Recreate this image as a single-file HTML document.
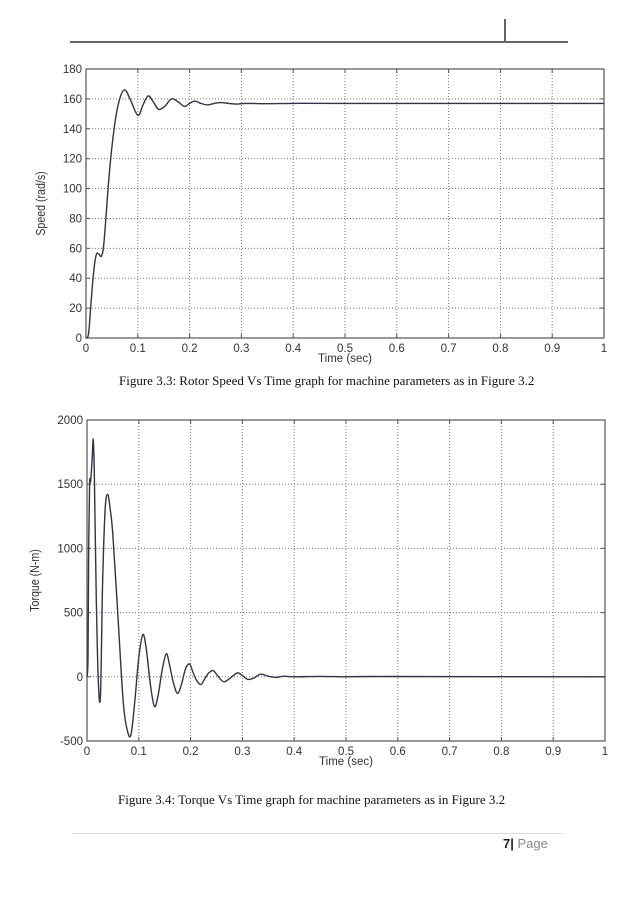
<!DOCTYPE html>
<html><head><meta charset="utf-8"><style>
body{margin:0;background:#fff;width:638px;height:903px;overflow:hidden;position:relative;font-family:"Liberation Sans",sans-serif}
.cap{position:absolute;font-family:"Liberation Serif",serif;font-size:13px;color:#111;white-space:nowrap}
</style></head><body>
<div style="position:absolute;left:70px;top:41px;width:498px;height:2px;background:#666"></div>
<div style="position:absolute;left:504px;top:19px;width:2px;height:23px;background:#666"></div>
<svg id="c1" style="position:absolute;left:0;top:0" width="638" height="400"></svg>
<div class="cap" style="left:119px;top:373px">Figure 3.3: Rotor Speed Vs Time graph for machine parameters as in Figure 3.2</div>
<svg id="c2" style="position:absolute;left:0;top:0" width="638" height="790"></svg>
<div class="cap" style="left:118px;top:792px">Figure 3.4: Torque Vs Time graph for machine parameters as in Figure 3.2</div>
<div style="position:absolute;left:72px;top:833px;width:491px;height:1px;background:#ddd"></div>
<div style="position:absolute;left:503px;top:836px;font-size:13px;color:#888;white-space:nowrap"><b style="color:#222">7|</b> Page</div>
<script>
const xTicks=[0,0.1,0.2,0.3,0.4,0.5,0.6,0.7,0.8,0.9,1];
const xTickLabels=["0","0.1","0.2","0.3","0.4","0.5","0.6","0.7","0.8","0.9","1"];
const speedTicks=[0,20,40,60,80,100,120,140,160,180];
const speedT=[0,0.005,0.01,0.015,0.02,0.025,0.03,0.035,0.045,0.055,0.065,0.075,0.085,0.1,0.11,0.12,0.13,0.14,0.152,0.165,0.178,0.19,0.2,0.21,0.222,0.235,0.248,0.26,0.275,0.29,0.31,0.35,0.4,0.5,1];
const speedV=[0,3,25,45,56,56,55,65,110,142,160,166,160,149,156,162,158,153,155,160,158,155,157,158.5,157,156,157,157.5,157,156.5,157,156.8,157,157,157];
const torqueTicks=[-500,0,500,1000,1500,2000];
const torqueTickLabels=["-500","0","500","1000","1500","2000"];
const torqueT=[0,0.002,0.003,0.005,0.007,0.01,0.012,0.014,0.018,0.022,0.026,0.03,0.035,0.04,0.045,0.05,0.06,0.07,0.078,0.085,0.092,0.1,0.108,0.115,0.122,0.13,0.137,0.145,0.153,0.16,0.167,0.175,0.183,0.19,0.198,0.205,0.212,0.22,0.228,0.235,0.243,0.25,0.258,0.265,0.275,0.29,0.3,0.31,0.322,0.335,0.35,0.365,0.38,0.4,0.45,0.5,0.55,1];
const torqueV=[0,150,900,1500,1520,1700,1850,1600,600,-50,-140,700,1300,1420,1300,1100,450,-200,-420,-450,-200,150,330,200,-50,-230,-150,50,180,80,-50,-130,-50,60,100,30,-30,-60,-10,30,50,20,-20,-40,-15,30,10,-20,-10,20,5,-5,5,0,3,0,2,0];
const NS="http://www.w3.org/2000/svg";
function mk(svg,tag,attrs){const e=document.createElementNS(NS,tag);for(const k in attrs)e.setAttribute(k,attrs[k]);svg.appendChild(e);return e;}
function smooth(pts){
  let d='M'+pts[0][0].toFixed(1)+','+pts[0][1].toFixed(1);
  for(let i=0;i<pts.length-1;i++){
    const p0=pts[Math.max(0,i-1)],p1=pts[i],p2=pts[i+1],p3=pts[Math.min(pts.length-1,i+2)];
    const c1=[p1[0]+(p2[0]-p0[0])/6,p1[1]+(p2[1]-p0[1])/6];
    const c2=[p2[0]-(p3[0]-p1[0])/6,p2[1]-(p3[1]-p1[1])/6];
    c1[0]=Math.min(Math.max(c1[0],p1[0]),p2[0]);c2[0]=Math.min(Math.max(c2[0],p1[0]),p2[0]);
    d+=` C${c1[0].toFixed(1)},${c1[1].toFixed(1)} ${c2[0].toFixed(1)},${c2[1].toFixed(1)} ${p2[0].toFixed(1)},${p2[1].toFixed(1)}`;
  }
  return d;
}
function chart(id,L,R,T,B,yTicks,yLabels,ymin,ymax,xs,ys,ylab,yLabX){
  const svg=document.getElementById(id);
  const sx=v=>L+(R-L)*v, sy=v=>B-(B-T)*(v-ymin)/(ymax-ymin);
  xTicks.forEach((t,i)=>{const x=sx(t);
    if(i>0&&i<xTicks.length-1){const g=mk(svg,'line',{x1:x,x2:x,y1:T,y2:B,stroke:'#777','stroke-dasharray':'1,2','stroke-width':1});
    }
    const tx=mk(svg,'text',{x:x,y:B+14,'font-size':11.5,'text-anchor':'middle',fill:'#333'});tx.textContent=xTickLabels[i];
    
    mk(svg,'line',{x1:x,x2:x,y1:B,y2:B-4,stroke:'#555'});mk(svg,'line',{x1:x,x2:x,y1:T,y2:T+4,stroke:'#555'});
  });
  yTicks.forEach((t,i)=>{const y=sy(t);
    if(i>0&&i<yTicks.length-1){const g=mk(svg,'line',{x1:L,x2:R,y1:y,y2:y,stroke:'#777','stroke-dasharray':'1,2','stroke-width':1});
    }
    const tx=mk(svg,'text',{x:L-4,y:y+4,'font-size':11.5,'text-anchor':'end',fill:'#333'});tx.textContent=yLabels[i];
    
    mk(svg,'line',{x1:L,x2:L+4,y1:y,y2:y,stroke:'#555'});mk(svg,'line',{x1:R,x2:R-4,y1:y,y2:y,stroke:'#555'});
  });
  const fr=mk(svg,'rect',{x:L,y:T,width:R-L,height:B-T,fill:'none',stroke:'#555','stroke-width':1.2});
  
  const pts=xs.map((t,i)=>[sx(t),sy(ys[i])]);
  const p=mk(svg,'path',{d:smooth(pts),fill:'none',stroke:'#334','stroke-width':1.4,'stroke-linejoin':'round'});
  
  const xl=mk(svg,'text',{x:(L+R)/2,y:B+24,'font-size':11.5,'text-anchor':'middle',fill:'#333'});xl.textContent='Time (sec)';
  
  const yl=mk(svg,'text',{x:0,y:0,'font-size':12.5,'text-anchor':'middle',fill:'#333',transform:`translate(${yLabX},${(T+B)/2}) rotate(-90) scale(0.85,1)`});yl.textContent=ylab;
  
}
chart('c1',86,604,69,338,speedTicks,speedTicks.map(String),0,180,speedT,speedV,'Speed (rad/s)',45);
chart('c2',87,605,420,741,torqueTicks,torqueTickLabels,-500,2000,torqueT,torqueV,'Torque (N-m)',39);
</script>
</body></html>
